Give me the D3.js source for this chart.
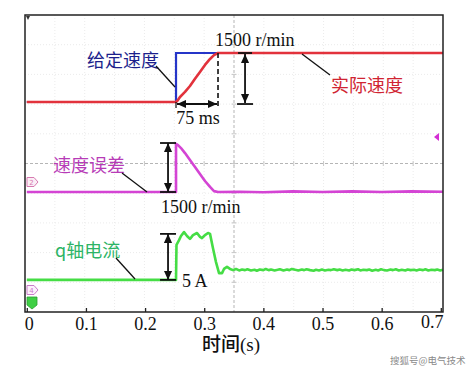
<!DOCTYPE html>
<html>
<head>
<meta charset="utf-8">
<script src="https://cdn.jsdelivr.net/npm/d3@7"></script>
<style>
  html, body { margin: 0; padding: 0; background: #fff; }
  svg { display: block; }
</style>
</head>
<body>
<svg id="chart" width="474" height="369"></svg>
<script>
// ---------------- data ----------------
const tickValues = [0, 0.1, 0.2, 0.3, 0.4, 0.5, 0.6, 0.7];
const tickLabels = ["0", "0.1", "0.2", "0.3", "0.4", "0.5", "0.6", "0.7"];

// values in oscilloscope divisions (10 vertical divisions on screen)
const refSpeed = [[0, 7.07], [0.2523, 7.07], [0.2523, 8.72], [0.7035, 8.72]];
const actSpeed = [
  [0, 7.07], [0.2523, 7.07], [0.2550, 7.12], [0.2590, 7.24], [0.2675, 7.41],
  [0.2759, 7.61], [0.2844, 7.85], [0.2928, 8.08], [0.3013, 8.32], [0.3098, 8.52],
  [0.3165, 8.65], [0.3233, 8.72], [0.7035, 8.72]
];
const speedErr = [
  [0, 4.04], [0.2523, 4.04], [0.2523, 5.66], [0.2557, 5.62], [0.2607, 5.52],
  [0.2675, 5.35], [0.2759, 5.12], [0.2844, 4.88], [0.2928, 4.65], [0.3013, 4.41],
  [0.3098, 4.21], [0.3165, 4.07], [0.3233, 4.04], [0.36, 4.05], [0.40, 4.03],
  [0.45, 4.06], [0.50, 4.04], [0.55, 4.06], [0.60, 4.04], [0.65, 4.06], [0.7035, 4.05]
];
const qCurrent = [
  [0, 1.08], [0.2523, 1.08], [0.2531, 2.26], [0.2574, 2.42], [0.2607, 2.56],
  [0.2658, 2.69], [0.2709, 2.56], [0.2759, 2.46], [0.2810, 2.59], [0.2878, 2.66],
  [0.2929, 2.53], [0.2962, 2.49], [0.3013, 2.59], [0.3064, 2.66], [0.3098, 2.63],
  [0.3148, 2.15], [0.3199, 1.68], [0.3250, 1.31], [0.3301, 1.31], [0.3334, 1.45],
  [0.3385, 1.52], [0.3436, 1.45], [0.3487, 1.41], [0.3537, 1.45],
  [0.359, 1.40], [0.364, 1.43], [0.369, 1.41], [0.373, 1.44], [0.379, 1.40],
  [0.385, 1.42], [0.389, 1.39], [0.394, 1.43], [0.400, 1.41], [0.404, 1.45],
  [0.409, 1.41], [0.413, 1.43], [0.419, 1.40], [0.424, 1.42], [0.428, 1.44],
  [0.434, 1.40], [0.440, 1.43], [0.444, 1.41], [0.448, 1.45], [0.454, 1.42],
  [0.459, 1.40], [0.465, 1.43], [0.469, 1.41], [0.473, 1.44], [0.479, 1.41],
  [0.485, 1.39], [0.489, 1.42], [0.494, 1.40], [0.499, 1.43], [0.504, 1.40],
  [0.510, 1.42], [0.514, 1.41], [0.519, 1.44], [0.525, 1.41], [0.529, 1.43],
  [0.534, 1.40], [0.539, 1.42], [0.545, 1.40], [0.549, 1.43], [0.554, 1.41],
  [0.560, 1.44], [0.564, 1.40], [0.569, 1.42], [0.575, 1.41], [0.579, 1.43],
  [0.584, 1.39], [0.590, 1.42], [0.594, 1.40], [0.599, 1.44], [0.604, 1.41],
  [0.609, 1.40], [0.615, 1.43], [0.619, 1.41], [0.624, 1.44], [0.629, 1.40],
  [0.634, 1.42], [0.640, 1.40], [0.644, 1.43], [0.649, 1.41], [0.655, 1.42],
  [0.659, 1.40], [0.664, 1.43], [0.670, 1.41], [0.674, 1.44], [0.679, 1.40],
  [0.684, 1.42], [0.690, 1.41], [0.694, 1.43], [0.699, 1.40], [0.7035, 1.42]
];
// annotation anchors (time s, divisions)
const stepTime = 0.2523;
const settleTime = 0.3233;
const speedLow = 7.07, speedHigh = 8.72;
const errLow = 4.04, errHigh = 5.69;
const iqLow = 1.08, iqHigh = 2.63;

// ---------------- layout ----------------
const box = { l: 25, t: 15, r: 443, b: 312 };
const svg = d3.select("#chart");
const x = d3.scaleLinear().domain([0, 0.7]).range([26.8, 440.8]);
const y = d3.scaleLinear().domain([0, 10]).range([box.b, box.t]);

const serif = "'Liberation Serif', 'Times New Roman', serif";
const cjk = "'Noto Sans CJK SC', sans-serif";

// grid (14 x 10 small divisions)
const g = svg.append("g");
const cols = 14, rows = 10;
const dw = (box.r - box.l) / cols, dh = (box.b - box.t) / rows;
for (let i = 1; i < cols; i++) {
  const gx = box.l + i * dw;
  const center = i === cols / 2;
  g.append("line").attr("x1", gx).attr("x2", gx).attr("y1", box.t).attr("y2", box.b)
    .attr("stroke", center ? "#b5b5b5" : "#ebebeb")
    .attr("stroke-width", 1)
    .attr("stroke-dasharray", center ? "3,2" : "1,2");
}
for (let j = 1; j < rows; j++) {
  const gy = box.t + j * dh;
  const center = j === rows / 2;
  g.append("line").attr("x1", box.l).attr("x2", box.r).attr("y1", gy).attr("y2", gy)
    .attr("stroke", center ? "#b5b5b5" : "#ebebeb")
    .attr("stroke-width", 1)
    .attr("stroke-dasharray", center ? "3,2" : "1,2");
}
for (let i = 1; i < cols; i++) {
  const gx = box.l + i * dw;
  g.append("line").attr("x1", gx).attr("x2", gx)
    .attr("y1", box.t + 5 * dh - 2.5).attr("y2", box.t + 5 * dh + 2.5)
    .attr("stroke", "#c8c8c8");
}
for (let j = 1; j < rows; j++) {
  const gy = box.t + j * dh;
  g.append("line").attr("x1", box.l + 7 * dw - 2.5).attr("x2", box.l + 7 * dw + 2.5)
    .attr("y1", gy).attr("y2", gy).attr("stroke", "#c8c8c8");
}

// ---------------- traces ----------------
const line = d3.line().x(d => x(d[0])).y(d => y(d[1]));
svg.append("path").datum(refSpeed).attr("d", line).attr("fill", "none")
  .attr("stroke", "#2535c8").attr("stroke-width", 2.2);
svg.append("path").datum(speedErr).attr("d", line).attr("fill", "none")
  .attr("stroke", "#d444d4").attr("stroke-width", 2.6).attr("stroke-linejoin", "round");
svg.append("path").datum(qCurrent).attr("d", line).attr("fill", "none")
  .attr("stroke", "#45dd45").attr("stroke-width", 2.6).attr("stroke-linejoin", "round");
svg.append("path").datum(actSpeed).attr("d", line).attr("fill", "none")
  .attr("stroke", "#e2323c").attr("stroke-width", 2.6).attr("stroke-linejoin", "round");

// ---------------- frame ----------------
svg.append("rect").attr("x", box.l).attr("y", box.t)
  .attr("width", box.r - box.l).attr("height", box.b - box.t)
  .attr("fill", "none").attr("stroke", "#222").attr("stroke-width", 1.5);

// ---------------- x axis ----------------
const axis = d3.axisBottom(x).tickValues(tickValues)
  .tickFormat((d, i) => tickLabels[i]).tickSize(-4).tickPadding(6);
const ax = svg.append("g").attr("transform", `translate(0,${box.b})`).call(axis);
ax.select(".domain").remove();
ax.selectAll(".tick line").attr("stroke", "#222").attr("stroke-width", 1.3);
ax.selectAll(".tick text")
  .attr("font-family", serif).attr("font-size", 18).attr("fill", "#111")
  .attr("dx", (d, i) => i === tickValues.length - 1 ? -9 : (i === 0 ? 2 : 0))
  .attr("dy", (d, i) => i === tickValues.length - 1 ? "0.56em" : "0.64em");

// axis title: serif primary font, CJK glyphs fall back to Noto Sans CJK
svg.append("text").attr("x", 231).attr("y", 351)
  .attr("text-anchor", "middle").attr("fill", "#111")
  .attr("font-family", "'Liberation Serif', 'Noto Sans CJK SC', serif")
  .attr("font-size", 19).attr("font-weight", 500)
  .text("时间(s)");

// ---------------- annotations ----------------
const defs = svg.append("defs");
defs.append("marker").attr("id", "ah").attr("viewBox", "0 0 10 10")
  .attr("refX", 10).attr("refY", 5).attr("markerWidth", 9).attr("markerHeight", 9)
  .attr("markerUnits", "userSpaceOnUse").attr("orient", "auto-start-reverse")
  .append("path").attr("d", "M0,0.5 L10,5 L0,9.5 Z").attr("fill", "#111");

function arrow(x1, y1, x2, y2) {
  svg.append("line").attr("x1", x1).attr("y1", y1).attr("x2", x2).attr("y2", y2)
    .attr("stroke", "#111").attr("stroke-width", 1.8)
    .attr("marker-start", "url(#ah)").attr("marker-end", "url(#ah)");
}
function hbar(cx, cy, w) {
  svg.append("line").attr("x1", cx - w / 2).attr("x2", cx + w / 2).attr("y1", cy).attr("y2", cy)
    .attr("stroke", "#111").attr("stroke-width", 1.8);
}
function lead(x1, y1, x2, y2) {
  svg.append("line").attr("x1", x1).attr("y1", y1).attr("x2", x2).attr("y2", y2)
    .attr("stroke", "#111").attr("stroke-width", 1.3);
}
function label(txt, lx, ly, color, font, size, anchor) {
  return svg.append("text").attr("x", lx).attr("y", ly).attr("fill", color)
    .attr("font-family", font).attr("font-size", size)
    .attr("text-anchor", anchor || "start").text(txt);
}

const xs = x(stepTime), xe = x(settleTime);
svg.append("line").attr("x1", xe).attr("x2", xe).attr("y1", y(speedHigh)).attr("y2", y(speedLow) + 5)
  .attr("stroke", "#111").attr("stroke-width", 1.6).attr("stroke-dasharray", "5,3");
svg.append("line").attr("x1", xs).attr("x2", xs).attr("y1", y(speedLow)).attr("y2", y(speedLow) + 6)
  .attr("stroke", "#111").attr("stroke-width", 1.2);
arrow(xs + 1, y(speedLow) + 2, xe - 1, y(speedLow) + 2);
label("75 ms", (xs + xe) / 2 + 1, y(speedLow) + 22, "#111", serif, 18, "middle");

const xa = x(0.369);
arrow(xa, y(speedHigh) + 1, xa, y(speedLow) + 1);
hbar(xa, y(speedHigh), 14);
hbar(xa, y(speedLow) + 2, 16);
label("1500 r/min", 215, 46, "#111", serif, 18);

const xb = x(0.2388);
arrow(xb, y(errHigh), xb, y(errLow));
hbar(xb, y(errHigh), 16);
hbar(xb, y(errLow), 16);
label("1500 r/min", 161, 213, "#111", serif, 18);

arrow(xb, y(iqHigh), xb, y(iqLow));
hbar(xb, y(iqHigh), 16);
hbar(xb, y(iqLow), 16);
label("5 A", 182, 287, "#111", serif, 18);

label("给定速度", 87, 67, "#1c1f8c", cjk, 18);
lead(156, 66, 175, 87);
label("实际速度", 331, 92, "#d02432", cjk, 18);
lead(302, 54, 330, 75);
label("速度误差", 53, 172, "#b73bb7", cjk, 18);
lead(122, 173, 147, 192);
label("q轴电流", 55, 257, "#2db466", cjk, 18);
lead(116, 258, 135, 279);

// ---------------- scope channel markers ----------------
function tag(ty, stroke, fill, txt) {
  const tx = box.l + 2;
  svg.append("path")
    .attr("d", `M${tx},${ty - 4.5} L${tx + 7},${ty - 4.5} L${tx + 11},${ty} L${tx + 7},${ty + 4.5} L${tx},${ty + 4.5} Z`)
    .attr("fill", fill).attr("stroke", stroke).attr("stroke-width", 1);
  svg.append("text").attr("x", tx + 4.5).attr("y", ty + 2.5).attr("text-anchor", "middle")
    .attr("font-family", "DejaVu Sans").attr("font-size", 7).attr("fill", stroke).text(txt);
}
tag(182, "#d77ab0", "#fbeef6", "2");
tag(290, "#c97cc9", "#fdf0fd", "4");
svg.append("path")
  .attr("d", `M${box.l + 2},${297} L${box.l + 12},${297} L${box.l + 12},${305} L${box.l + 7},${309} L${box.l + 2},${305} Z`)
  .attr("fill", "#3fcf45").attr("stroke", "#2aa030").attr("stroke-width", 0.8);
svg.append("path")
  .attr("d", `M${box.l + 1},${box.t + 1} L${box.l + 5},${box.t + 1} L${box.l + 3},${box.t + 5} Z`)
  .attr("fill", "#333");
svg.append("path")
  .attr("d", `M${box.r - 9},${137} L${box.r - 4},${133} L${box.r - 4},${141} Z`)
  .attr("fill", "#d42ed4");

svg.append("text").attr("x", 390).attr("y", 364).attr("fill", "#8a8a8a")
  .attr("font-family", cjk).attr("font-size", 9.5).text("搜狐号@电气技术");
</script>
</body>
</html>
